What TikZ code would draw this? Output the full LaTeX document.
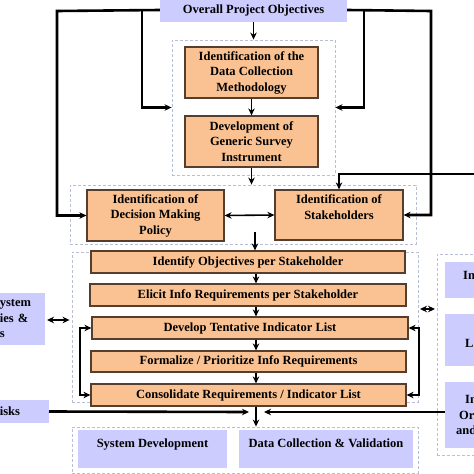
\documentclass[tikz,border=0pt]{standalone}
\usepackage{fontspec}
\setmainfont{Liberation Serif}
\usetikzlibrary{arrows.meta,calc}
\definecolor{lav}{RGB}{204,204,255}
\definecolor{org}{RGB}{250,194,146}
\definecolor{brd}{RGB}{85,62,45}
\definecolor{dsh}{RGB}{185,190,215}
\begin{document}
\begin{tikzpicture}[x=1pt,y=-1pt,
  >={Stealth[length=7pt,width=6.5pt]},
  txt/.style={font=\fontsize{12.5}{15.5}\selectfont\bfseries, align=center},
  obox/.style={txt, draw=brd, line width=1.2pt, fill=org, inner sep=0pt},
  lbox/.style={txt, fill=lav, inner sep=0pt},
  dbox/.style={draw=dsh, line width=0.9pt, dash pattern=on 3pt off 2pt, inner sep=0pt},
  big/.style={line width=2.6pt, line join=miter, ->},
  arr/.style={line width=1.6pt, ->},
]
\useasboundingbox (0,0) rectangle (474,474);
\clip (0,0) rectangle (474,474);
\fill[white] (0,0) rectangle (474,474);

% dashed groups
\node[dbox, minimum width=163pt, minimum height=135pt] (d1) at (253.5,107.5) {};
\node[dbox, minimum width=346pt, minimum height=59pt] (d2) at (243,214.5) {};
\node[dbox, minimum width=346pt, minimum height=150pt] (d3) at (245,327) {};
\node[dbox, minimum width=346pt, minimum height=46pt] (d4) at (245,450) {};
\node[dbox, anchor=north west, minimum width=60pt, minimum height=201pt] (rd) at (437,254) {};

% top
\node[lbox, minimum width=187pt, minimum height=24pt] (opo) at (253.5,10) {Overall Project Objectives};

% orange boxes
\node[obox, minimum width=133pt, minimum height=51pt] (dcm) at (251.5,72.5) {Identification of the\\Data Collection\\Methodology};
\node[obox, minimum width=133pt, minimum height=51pt] (dgs) at (251.5,141.5) {Development of\\Generic Survey\\Instrument};
\node[obox, minimum width=137pt, minimum height=51pt] (dmp) at (155.5,215.5) {Identification of\\Decision Making\\Policy};
\node[obox, minimum width=128pt, minimum height=50pt] (stk) at (339,215) {Identification of\\Stakeholders\\\mbox{}};
\node[obox, minimum width=314pt, minimum height=22pt] (ios) at (248,262) {Identify Objectives per Stakeholder};
\node[obox, minimum width=316pt, minimum height=22pt] (eir) at (248,295) {Elicit Info Requirements per Stakeholder};
\node[obox, minimum width=316pt, minimum height=22pt] (dtil) at (250,328) {Develop Tentative Indicator List};
\node[obox, minimum width=315pt, minimum height=21pt] (fpir) at (248.5,361.5) {Formalize / Prioritize Info Requirements};
\node[obox, minimum width=315pt, minimum height=22pt] (cril) at (248.5,395) {Consolidate Requirements / Indicator List};

% bottom lavender boxes
\node[lbox, minimum width=149pt, text height=17pt, text depth=21pt, anchor=base] (sd) at (152.5,447) {System Development};
\node[lbox, minimum width=174pt, text height=17pt, text depth=21pt, anchor=base] (dcv) at (326,447) {Data Collection \& Validation};

% cropped side boxes
\node[lbox, anchor=east, text width=45pt, align=left, minimum height=52pt] (sys) at (45,319) {ystem\\ies \&\\s};
\node[lbox, anchor=east, text width=49pt, align=left, minimum height=23pt] (risks) at (49,411.5) {isks};
\node[lbox, anchor=north west, inner xsep=18pt, text width=24pt, align=left, text height=17pt, text depth=19pt] (rb1) at (445,262) {In};
\node[lbox, anchor=north west, inner xsep=20pt, text width=20pt, align=left, text height=33pt, text depth=19pt] (rb2) at (445,314) {L};
\node[lbox, anchor=west, inner xsep=11pt, text width=38pt, align=left, minimum height=66pt] (rb3) at (445,415) {\hspace{9pt}In\\\hspace{3pt}Or\\and};

% helper coordinates
\coordinate (L1) at (57,11);
\coordinate (L2) at (142,11);
\coordinate (R1) at (431,11);
\coordinate (R2) at (364,11);
\coordinate (E1) at (480,174);
\coordinate (S1) at (255,232);
\coordinate (mx) at (256,0);
\coordinate (lx) at (80,0);
\coordinate (rx) at (419,0);
\coordinate (la) at (47,320);
\coordinate (ra) at (420,309);
\coordinate (JL) at (249,412);
\coordinate (JR) at (264,412);

% outer feedback lines
\draw[big] (opo.west) -- (L1) |- (dmp.west);
\draw[big] (L2) |- (d1.west);
\draw[big] (opo.east) -- (R1) |- (stk.east);
\draw[big] (R2) |- (d1.east);
\draw[big] (E1) -| (stk.north);

% main flow
\draw[arr] (opo.south) -- (d1.north);
\draw[arr] (dcm.south) -- (dgs.north);
\draw[arr] (dgs.south) -- (dgs.south |- d2.north);
\draw[line width=1.6pt, <->] (dmp.east) -- (stk.west);
\draw[arr] (S1) -- (S1 |- ios.north);
\draw[arr] (ios.south -| mx) -- (eir.north -| mx);
\draw[arr] (eir.south -| mx) -- (dtil.north -| mx);
\draw[arr] (dtil.south -| mx) -- (fpir.north -| mx);
\draw[arr] (fpir.south -| mx) -- (cril.north -| mx);
\draw[line width=1.6pt, <->] (dtil.west) -- (dtil.west -| lx) -- (cril.west -| lx) -- (cril.west);
\draw[line width=1.6pt, <->] (dtil.east) -- (dtil.east -| rx) -- (cril.east -| rx) -- (cril.east);
\draw[big] (cril.south -| mx) -- (d4.north -| mx);

% side connections
\draw[line width=1.6pt, <->, shorten >=2pt] (la) -- (la -| d3.west);
\draw[line width=1.6pt, <->, shorten >=2pt] (ra) -- (ra -| rd.west);
\draw[big] (risks.east) -- (JL);
\draw[big] (rb3.west |- JR) -- (JR);
\end{tikzpicture}
\end{document}
